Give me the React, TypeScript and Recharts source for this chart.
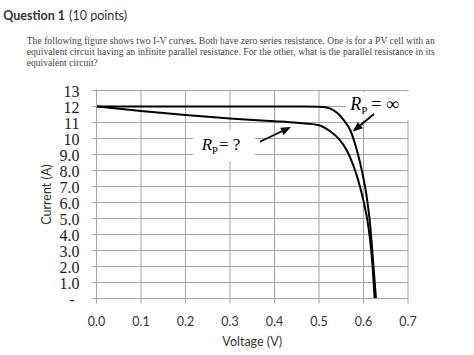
import React from 'react';
import {
  LineChart,
  Line,
  XAxis,
  YAxis,
  CartesianGrid,
  ReferenceArea,
  ReferenceLine,
  ReferenceDot,
  Label,
} from 'recharts';

// Rp = infinity curve (voltage V, current A)
const voltsInf = [0, 0.1, 0.2, 0.3, 0.4, 0.5, 0.515, 0.532, 0.545, 0.555, 0.57, 0.585, 0.596, 0.607, 0.615, 0.621, 0.628];
const ampsInf = [12, 12, 12, 12, 12, 11.99, 11.95, 11.78, 11.5, 11.16, 10.53, 9.28, 8.03, 6.4, 4.6, 2.55, 0];

// Rp = ? curve
const voltsRp = [0, 0.1, 0.2, 0.3, 0.4, 0.45, 0.5, 0.525, 0.547, 0.562, 0.576, 0.588, 0.6, 0.611, 0.619, 0.625];
const ampsRp = [12, 11.72, 11.47, 11.25, 11.08, 10.98, 10.83, 10.45, 9.9, 9.28, 8.4, 7.4, 6.1, 4.5, 2.5, 0];

const xTicks = [0, 0.1, 0.2, 0.3, 0.4, 0.5, 0.6, 0.7];
const yTicks = [0, 1, 2, 3, 4, 5, 6, 7, 8, 9, 10, 11, 12, 13];

const titleBold = 'Question 1';
const titleRest = '(10 points)';
const paraLines = [
  'The following figure shows two I-V curves. Both have zero series resistance. One is for a PV cell with an',
  'equivalent circuit having an infinite parallel resistance. For the other, what is the parallel resistance in its',
  'equivalent circuit?',
];
const xLabel = 'Voltage (V)';
const yLabel = 'Current (A)';

const infData = voltsInf.map((v, i) => ({ v, i: ampsInf[i] }));
const rpData = voltsRp.map((v, i) => ({ v, i: ampsRp[i] }));

const GRID = '#a3a3a3';

const YTick = (props: any) => {
  const { x, y, payload } = props;
  const val = payload.value as number;
  const txt = val === 0 ? '-' : val >= 10 ? String(val) : val.toFixed(1);
  return (
    <text
      x={val === 0 ? x - 5 : x}
      y={y}
      dy={6}
      textAnchor="end"
      fontFamily="'Liberation Serif', serif"
      fontSize={16}
      fill="#1a1a1a"
    >
      {txt}
    </text>
  );
};

const Arrow = (props: any) => {
  const { x1, y1, x2, y2 } = props;
  const dx = x2 - x1;
  const dy = y2 - y1;
  const len = Math.sqrt(dx * dx + dy * dy);
  const ux = dx / len;
  const uy = dy / len;
  const hl = 10;
  const hw = 4;
  const bx = x2 - ux * hl;
  const by = y2 - uy * hl;
  const pts = `${x2},${y2} ${bx - uy * hw},${by + ux * hw} ${bx + uy * hw},${by - ux * hw}`;
  return (
    <g>
      <line x1={x1} y1={y1} x2={bx} y2={by} stroke="#000" strokeWidth={1.8} />
      <polygon points={pts} fill="#000" />
    </g>
  );
};

const RpLabel = (size: number, tail: string) => (props: any) => {
  const { cx, cy } = props;
  return (
    <text x={cx} y={cy} fontFamily="'Liberation Serif', serif" fontSize={size} fill="#000">
      <tspan fontStyle="italic">R</tspan>
      <tspan fontSize={size * 0.62} dy={4}>P</tspan>
      <tspan dy={-4} dx={size === 18 ? 4 : 1}>{tail}</tspan>
    </text>
  );
};

export default function App() {
  return (
    <div style={{ position: 'absolute', left: 0, top: 0, width: 474, height: 355, background: '#fff' }}>
      <svg width={474} height={80} style={{ position: 'absolute', left: 0, top: 0 }}>
        <text x={3.3} y={20} fontFamily="Lato, sans-serif" fontSize={12.5} fill="#333">
          <tspan fontWeight="bold">{titleBold}</tspan>
          <tspan dx={4}>{titleRest}</tspan>
        </text>
        {paraLines.map((ln, k) => (
          <text
            key={k}
            x={26.7}
            y={44.3 + k * 10.7}
            fontFamily="'Liberation Serif', serif"
            fontSize={9.6}
            fill="#444"
            textLength={k < 2 ? 408 : undefined}
            lengthAdjust="spacing"
          >
            {ln}
          </text>
        ))}
      </svg>
      <div style={{ position: 'absolute', left: 0, top: 0 }}>
        <LineChart width={474} height={355} margin={{ top: 90.5, right: 66, bottom: 0, left: 0 }}>
          <CartesianGrid stroke={GRID} strokeWidth={1} horizontalValues={yTicks} verticalValues={xTicks} />
          <XAxis
            type="number"
            dataKey="v"
            domain={[0, 0.7]}
            ticks={xTicks}
            interval={0}
            allowDataOverflow
            height={56.5}
            tickSize={5}
            tickMargin={14}
            axisLine={{ stroke: GRID }}
            tickLine={{ stroke: GRID }}
            tick={{ fontFamily: 'Lato, sans-serif', fontSize: 12.5, fill: '#333' }}
            tickFormatter={(v: number) => v.toFixed(1)}
          >
            <Label
              value={xLabel}
              position="insideBottom"
              offset={9}
              style={{ fontFamily: 'Lato, sans-serif', fontSize: 12.5, fill: '#333' }}
            />
          </XAxis>
          <YAxis
            type="number"
            dataKey="i"
            domain={[0, 13]}
            ticks={yTicks}
            interval={0}
            allowDataOverflow
            width={96.5}
            tickSize={5}
            tickMargin={12}
            axisLine={{ stroke: GRID }}
            tickLine={{ stroke: GRID }}
            tick={<YTick />}
          >
            <Label
              content={(p: any) => {
                const vb = p.viewBox || { x: 0, y: 90.5, width: 96.5, height: 208 };
                const cy = vb.y + vb.height / 2;
                return (
                  <text
                    x={50.5}
                    y={cy}
                    transform={`rotate(-90 50.5 ${cy})`}
                    textAnchor="middle"
                    fontFamily="Lato, sans-serif"
                    fontSize={12.5}
                    fill="#333"
                  >
                    {yLabel}
                  </text>
                );
              }}
            />
          </YAxis>
          <ReferenceArea x1={0.561} x2={0.712} y1={11.16} y2={12.9} fill="#fff" fillOpacity={1} stroke="none" ifOverflow="visible" />
          <ReferenceArea x1={0.217} x2={0.356} y1={8.6} y2={10.55} fill="#fff" fillOpacity={1} stroke="none" ifOverflow="visible" />
          <Line data={infData} dataKey="i" type="monotone" stroke="#000" strokeWidth={2} dot={false} isAnimationActive={false} />
          <Line data={rpData} dataKey="i" type="monotone" stroke="#000" strokeWidth={2} dot={false} isAnimationActive={false} />
          <ReferenceLine segment={[{ x: 0.6236, y: 11.53 }, { x: 0.5757, y: 10.43 }]} shape={Arrow} ifOverflow="visible" />
          <ReferenceLine segment={[{ x: 0.3674, y: 9.8 }, { x: 0.437, y: 10.72 }]} shape={Arrow} ifOverflow="visible" />
          <ReferenceDot x={0.57} y={11.78} r={0} shape={RpLabel(18, '= ∞')} ifOverflow="visible" />
          <ReferenceDot x={0.2364} y={9.28} r={0} shape={RpLabel(17, '= ?')} ifOverflow="visible" />
        </LineChart>
      </div>
    </div>
  );
}
